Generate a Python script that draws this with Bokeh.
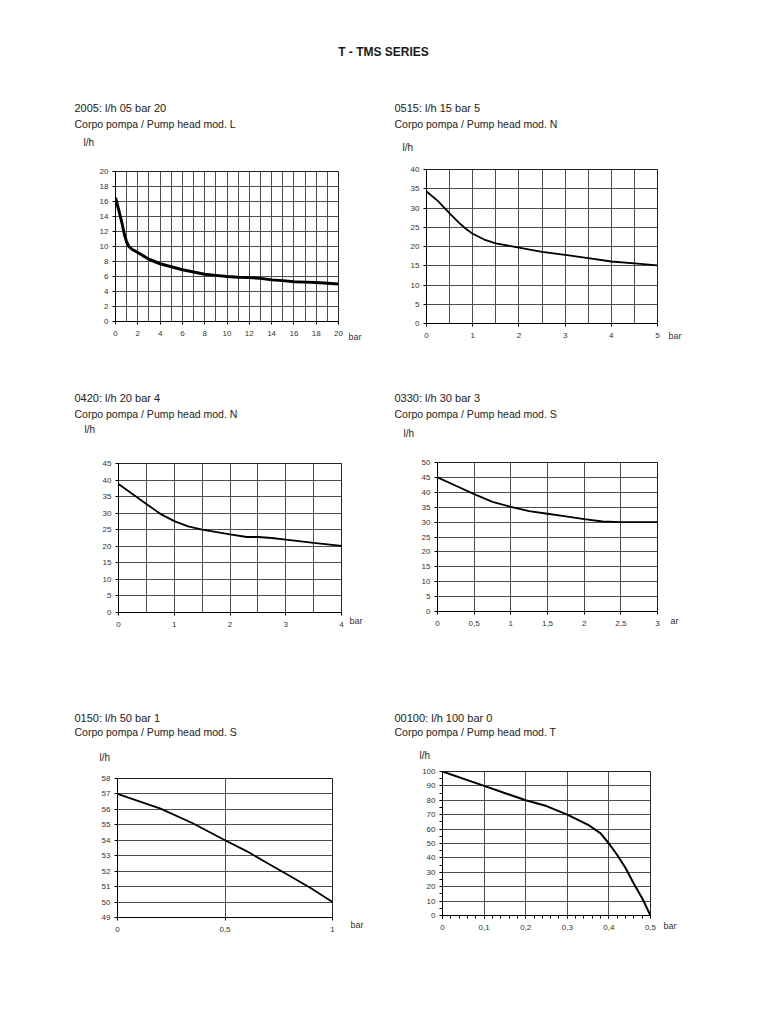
from bokeh.plotting import figure
from bokeh.layouts import column, row
from bokeh.models import Range1d, FixedTicker, CustomJSTickFormatter
from bokeh.core.properties import value
from bokeh.embed import file_html
from bokeh.resources import INLINE
import numpy as np

FONT = "Liberation Sans"

page_title = "T - TMS SERIES"

# ---- data ----
c1_title = "2005: l/h 05 bar 20"
c1_sub = "Corpo pompa / Pump head mod. L"
c1_x = [0, 0.3, 0.6, 0.8, 1.0, 1.2, 1.5, 2, 3, 4, 5, 6, 7, 8, 9, 10, 11, 12, 13, 14, 15, 16, 17, 18, 19, 20]
c1_y = [16.5, 14.8, 13.0, 11.6, 10.6, 10.0, 9.6, 9.2, 8.3, 7.7, 7.3, 6.9, 6.6, 6.3, 6.15, 6.0, 5.9, 5.85, 5.75, 5.55, 5.45, 5.3, 5.25, 5.2, 5.1, 5.0]

c2_title = "0515: l/h 15 bar 5"
c2_sub = "Corpo pompa / Pump head mod. N"
c2_x = [0, 0.25, 0.5, 0.7, 0.85, 1.0, 1.25, 1.5, 2.0, 2.5, 3.0, 3.5, 4.0, 4.5, 5.0]
c2_y = [34.3, 31.8, 28.6, 26.2, 24.6, 23.3, 21.8, 20.8, 19.7, 18.6, 17.8, 17.0, 16.1, 15.6, 15.1]

c3_title = "0420: l/h 20 bar 4"
c3_sub = "Corpo pompa / Pump head mod. N"
c3_x = [0, 0.25, 0.5, 0.75, 1.0, 1.25, 1.5, 2.0, 2.3, 2.5, 2.75, 3.0, 3.5, 4.0]
c3_y = [38.8, 35.8, 32.8, 29.8, 27.6, 26.0, 25.0, 23.6, 22.8, 22.8, 22.5, 22.0, 21.0, 20.1]

c4_title = "0330: l/h 30 bar 3"
c4_sub = "Corpo pompa / Pump head mod. S"
c4_x = [0, 0.25, 0.5, 0.75, 1.0, 1.25, 1.5, 1.75, 2.0, 2.25, 2.5, 3.0]
c4_y = [45.0, 42.2, 39.4, 36.8, 35.1, 33.7, 32.8, 31.9, 31.0, 30.2, 30.0, 30.0]

c5_title = "0150: l/h 50 bar 1"
c5_sub = "Corpo pompa / Pump head mod. S"
c5_x = [0, 0.2, 0.35, 0.5, 0.6, 0.7, 0.8, 0.9, 1.0]
c5_y = [57.0, 56.05, 55.1, 54.0, 53.3, 52.5, 51.7, 50.9, 50.0]

c6_title = "00100: l/h 100 bar 0"
c6_sub = "Corpo pompa / Pump head mod. T"
c6_x = [0, 0.1, 0.2, 0.25, 0.3, 0.35, 0.38, 0.4, 0.42, 0.44, 0.46, 0.48, 0.5]
c6_y = [100, 90, 80, 76, 70, 63, 57, 50, 42, 33, 22, 12, 0]

y_label = "l/h"
x_label = "bar"

GRID = "#4d4d4d"


def blank(w, h, x0, x1, y_bottom, y_top):
    f = figure(width=w, height=h, output_backend="svg", toolbar_location=None,
               x_range=Range1d(x0, x1), y_range=Range1d(y_bottom, y_top),
               x_axis_location=None, y_axis_location=None, min_border=0)
    f.grid.visible = False
    f.outline_line_color = None
    f.background_fill_color = "white"
    f.border_fill_color = "white"
    return f


def put_text(f, x, y, text, size, bold=False, color="#222222", align="left"):
    f.text(x=[x], y=[y], text=[text], text_font=value(FONT), text_font_size=size,
           text_font_style="bold" if bold else "normal", text_color=color,
           text_align=align, text_baseline="middle")


def cell(xs, ys, title, sub, xr, yr, xt, yt, gx, gy, cellbox, frame, tpos, lpos, bpos,
         xlab="bar", lw=2.0, comma=False, minor_x=None, minor_y=None):
    cx, cy, cw, ch = cellbox
    fl, ft, fr, fb = frame
    top_pad, right_pad = 6, 7
    T = ft - top_pad - cy
    cw_chart = fr + right_pad - cx
    h_chart = ch - T

    # text block above the chart (page pixel coordinates)
    tf = blank(cw, T, cx, cx + cw, cy + T, cy)
    put_text(tf, tpos[0], tpos[1], title, "11px")
    put_text(tf, tpos[0], tpos[2], sub, "10.5px")
    put_text(tf, lpos[0], lpos[1], y_label, "10px")

    p = figure(width=cw_chart, height=h_chart, output_backend="svg", toolbar_location=None,
               x_range=Range1d(*xr), y_range=Range1d(*yr),
               min_border_left=fl - cx, min_border_right=right_pad,
               min_border_top=top_pad, min_border_bottom=cy + ch - fb)
    p.background_fill_color = "white"
    p.border_fill_color = "white"
    p.outline_line_color = "#222222"
    p.outline_line_width = 1
    p.xaxis.ticker = FixedTicker(ticks=xt, minor_ticks=minor_x or [])
    p.yaxis.ticker = FixedTicker(ticks=yt, minor_ticks=minor_y or [])
    p.xgrid.ticker = FixedTicker(ticks=gx)
    p.ygrid.ticker = FixedTicker(ticks=gy)
    p.grid.grid_line_color = GRID
    p.grid.grid_line_width = 1
    p.grid.grid_line_alpha = 1.0
    for ax in (p.xaxis, p.yaxis):
        ax.axis_line_color = "black"
        ax.major_tick_line_color = "black"
        ax.major_tick_out = 3
        ax.major_tick_in = 0
        ax.minor_tick_out = 3 if (minor_x or minor_y) else 0
        ax.minor_tick_in = 0
        ax.minor_tick_line_color = "black"
        ax.major_label_text_font = FONT
        ax.major_label_text_font_size = "8px"
        ax.major_label_text_color = "#333333"
    p.xaxis.major_label_standoff = 6
    p.yaxis.major_label_standoff = 4
    if comma:
        p.xaxis.formatter = CustomJSTickFormatter(code="return String(tick).replace('.', ',');")
    p.line(xs, ys, line_color="black", line_width=lw)

    # narrow strip right of the chart; its frame lines up with the chart frame,
    # and its own x axis carries the unit label at tick-label height
    bx0 = cx + cw_chart
    bf = figure(width=cw - cw_chart, height=h_chart, output_backend="svg", toolbar_location=None,
                x_range=Range1d(bx0, cx + cw), y_range=Range1d(0, 1),
                y_axis_location=None, min_border=0)
    bf.grid.visible = False
    bf.outline_line_color = None
    bf.background_fill_color = "white"
    bf.border_fill_color = "white"
    half = 0.5 * 9 * (0.889 if xlab == "ar" else 1.445)
    bf.xaxis.ticker = FixedTicker(ticks=[bpos[0] + half], minor_ticks=[])
    bf.xaxis.formatter = CustomJSTickFormatter(code="return '%s';" % xlab)
    bf.xaxis.axis_line_color = None
    bf.xaxis.major_tick_line_color = None
    bf.xaxis.minor_tick_line_color = None
    bf.xaxis.major_tick_out = 0
    bf.xaxis.major_tick_in = 0
    bf.xaxis.minor_tick_out = 0
    bf.xaxis.minor_tick_in = 0
    bf.xaxis.major_label_text_font = FONT
    bf.xaxis.major_label_text_font_size = "9px"
    bf.xaxis.major_label_text_color = "#333333"
    bf.xaxis.major_label_standoff = max(0, int(round(bpos[1] - fb - 5)))

    return column(tf, row(p, bf))


LW, RW = 376, 376
c1 = cell(c1_x, c1_y, c1_title, c1_sub, (0, 20), (0, 20),
          list(range(0, 21, 2)), list(range(0, 21, 2)), list(range(0, 21)), list(range(0, 21, 2)),
          (0, 70, LW, 300), (115, 171, 338, 321), (74, 107, 123), (83, 142), (348, 336), lw=3.0)
c2 = cell(c2_x, c2_y, c2_title, c2_sub, (0, 5), (0, 40),
          [0, 1, 2, 3, 4, 5], list(range(0, 41, 5)), [i * 0.5 for i in range(11)], list(range(0, 41, 5)),
          (LW, 70, RW, 300), (426, 169, 657, 323), (394, 107, 123), (402, 147), (668, 335), lw=1.8)
c3 = cell(c3_x, c3_y, c3_title, c3_sub, (0, 4), (0, 45),
          [0, 1, 2, 3, 4], list(range(0, 46, 5)), [i * 0.5 for i in range(9)], list(range(0, 46, 5)),
          (0, 370, LW, 310), (118, 463, 341, 612), (74, 397, 413), (84, 429), (349, 620), lw=1.8)
c4 = cell(c4_x, c4_y, c4_title, c4_sub, (0, 3), (0, 50),
          [i * 0.5 for i in range(7)], list(range(0, 51, 5)), [i * 0.5 for i in range(7)], list(range(0, 51, 5)),
          (LW, 370, RW, 310), (437, 462, 657, 611), (394, 397, 413), (403, 433), (670, 620),
          xlab="ar", lw=1.8, comma=True)
c5 = cell(c5_x, c5_y, c5_title, c5_sub, (0, 1), (49, 58),
          [0, 0.5, 1], list(range(49, 59)), [0, 0.5, 1], list(range(49, 59)),
          (0, 680, LW, 320), (117, 778, 332, 917), (74, 717, 731), (99, 757), (350, 924),
          lw=1.8, comma=True)
mx6 = [round(v, 2) for v in np.arange(0, 0.5001, 0.02)]
my6 = list(range(5, 100, 10))
c6 = cell(c6_x, c6_y, c6_title, c6_sub, (0, 0.5), (0, 100),
          [0, 0.1, 0.2, 0.3, 0.4, 0.5], list(range(0, 101, 10)), [0, 0.1, 0.2, 0.3, 0.4, 0.5], list(range(0, 101, 10)),
          (LW, 680, RW, 320), (442, 771, 650, 915), (394, 717, 731), (419, 755), (663, 925),
          lw=2.0, comma=True, minor_x=mx6, minor_y=my6)

head = blank(LW + RW, 70, 0, LW + RW, 70, 0)
put_text(head, 383, 51, page_title, "12px", bold=True, color="#1a1a1a", align="center")

layout = column(head, row(c1, c2), row(c3, c4), row(c5, c6))
open("out.html", "w").write(file_html(layout, INLINE))
